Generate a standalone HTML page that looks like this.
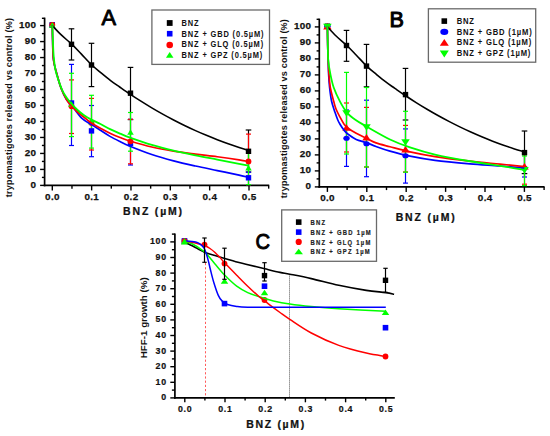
<!DOCTYPE html><html><head><meta charset="utf-8"><style>html,body{margin:0;padding:0;background:#fff;overflow:hidden;}svg{display:block;}</style></head><body>
<svg width="550" height="436" viewBox="0 0 550 436" style='font-family:"Liberation Sans", sans-serif'>
<rect width="550" height="436" fill="#fff"/>
<line x1="44.6" y1="17.6" x2="44.6" y2="186.3" stroke="#000" stroke-width="1.7" />
<line x1="43.75" y1="185.45" x2="269.2" y2="185.45" stroke="#000" stroke-width="1.7" />
<line x1="40.1" y1="185.4" x2="44.6" y2="185.4" stroke="#000" stroke-width="1.4" />
<line x1="41.9" y1="177.41" x2="44.6" y2="177.41" stroke="#000" stroke-width="1.4" />
<line x1="40.1" y1="169.42" x2="44.6" y2="169.42" stroke="#000" stroke-width="1.4" />
<line x1="41.9" y1="161.43" x2="44.6" y2="161.43" stroke="#000" stroke-width="1.4" />
<line x1="40.1" y1="153.44" x2="44.6" y2="153.44" stroke="#000" stroke-width="1.4" />
<line x1="41.9" y1="145.45" x2="44.6" y2="145.45" stroke="#000" stroke-width="1.4" />
<line x1="40.1" y1="137.46" x2="44.6" y2="137.46" stroke="#000" stroke-width="1.4" />
<line x1="41.9" y1="129.47" x2="44.6" y2="129.47" stroke="#000" stroke-width="1.4" />
<line x1="40.1" y1="121.48" x2="44.6" y2="121.48" stroke="#000" stroke-width="1.4" />
<line x1="41.9" y1="113.49" x2="44.6" y2="113.49" stroke="#000" stroke-width="1.4" />
<line x1="40.1" y1="105.5" x2="44.6" y2="105.5" stroke="#000" stroke-width="1.4" />
<line x1="41.9" y1="97.51" x2="44.6" y2="97.51" stroke="#000" stroke-width="1.4" />
<line x1="40.1" y1="89.52" x2="44.6" y2="89.52" stroke="#000" stroke-width="1.4" />
<line x1="41.9" y1="81.53" x2="44.6" y2="81.53" stroke="#000" stroke-width="1.4" />
<line x1="40.1" y1="73.54" x2="44.6" y2="73.54" stroke="#000" stroke-width="1.4" />
<line x1="41.9" y1="65.55" x2="44.6" y2="65.55" stroke="#000" stroke-width="1.4" />
<line x1="40.1" y1="57.56" x2="44.6" y2="57.56" stroke="#000" stroke-width="1.4" />
<line x1="41.9" y1="49.57" x2="44.6" y2="49.57" stroke="#000" stroke-width="1.4" />
<line x1="40.1" y1="41.58" x2="44.6" y2="41.58" stroke="#000" stroke-width="1.4" />
<line x1="41.9" y1="33.59" x2="44.6" y2="33.59" stroke="#000" stroke-width="1.4" />
<line x1="40.1" y1="25.6" x2="44.6" y2="25.6" stroke="#000" stroke-width="1.4" />
<line x1="41.9" y1="18.3" x2="44.6" y2="18.3" stroke="#000" stroke-width="1.4" />
<line x1="52.3" y1="185.45" x2="52.3" y2="190.45" stroke="#000" stroke-width="1.4" />
<line x1="71.97" y1="185.45" x2="71.97" y2="188.65" stroke="#000" stroke-width="1.4" />
<line x1="91.64" y1="185.45" x2="91.64" y2="190.45" stroke="#000" stroke-width="1.4" />
<line x1="111.31" y1="185.45" x2="111.31" y2="188.65" stroke="#000" stroke-width="1.4" />
<line x1="130.98" y1="185.45" x2="130.98" y2="190.45" stroke="#000" stroke-width="1.4" />
<line x1="150.65" y1="185.45" x2="150.65" y2="188.65" stroke="#000" stroke-width="1.4" />
<line x1="170.32" y1="185.45" x2="170.32" y2="190.45" stroke="#000" stroke-width="1.4" />
<line x1="189.99" y1="185.45" x2="189.99" y2="188.65" stroke="#000" stroke-width="1.4" />
<line x1="209.66" y1="185.45" x2="209.66" y2="190.45" stroke="#000" stroke-width="1.4" />
<line x1="229.33" y1="185.45" x2="229.33" y2="188.65" stroke="#000" stroke-width="1.4" />
<line x1="249" y1="185.45" x2="249" y2="190.45" stroke="#000" stroke-width="1.4" />
<line x1="268.67" y1="185.45" x2="268.67" y2="188.65" stroke="#000" stroke-width="1.4" />
<text transform="translate(36.45,187.7)" font-size="9.9" font-weight="bold" text-anchor="end" fill="#111" letter-spacing="0.35" stroke="#111" stroke-width="0.25" stroke-linejoin="round" >0</text>
<text transform="translate(36.45,171.72)" font-size="9.9" font-weight="bold" text-anchor="end" fill="#111" letter-spacing="0.35" stroke="#111" stroke-width="0.25" stroke-linejoin="round" >10</text>
<text transform="translate(36.45,155.74)" font-size="9.9" font-weight="bold" text-anchor="end" fill="#111" letter-spacing="0.35" stroke="#111" stroke-width="0.25" stroke-linejoin="round" >20</text>
<text transform="translate(36.45,139.76)" font-size="9.9" font-weight="bold" text-anchor="end" fill="#111" letter-spacing="0.35" stroke="#111" stroke-width="0.25" stroke-linejoin="round" >30</text>
<text transform="translate(36.45,123.78)" font-size="9.9" font-weight="bold" text-anchor="end" fill="#111" letter-spacing="0.35" stroke="#111" stroke-width="0.25" stroke-linejoin="round" >40</text>
<text transform="translate(36.45,107.8)" font-size="9.9" font-weight="bold" text-anchor="end" fill="#111" letter-spacing="0.35" stroke="#111" stroke-width="0.25" stroke-linejoin="round" >50</text>
<text transform="translate(36.45,91.82)" font-size="9.9" font-weight="bold" text-anchor="end" fill="#111" letter-spacing="0.35" stroke="#111" stroke-width="0.25" stroke-linejoin="round" >60</text>
<text transform="translate(36.45,75.84)" font-size="9.9" font-weight="bold" text-anchor="end" fill="#111" letter-spacing="0.35" stroke="#111" stroke-width="0.25" stroke-linejoin="round" >70</text>
<text transform="translate(36.45,59.86)" font-size="9.9" font-weight="bold" text-anchor="end" fill="#111" letter-spacing="0.35" stroke="#111" stroke-width="0.25" stroke-linejoin="round" >80</text>
<text transform="translate(36.45,43.88)" font-size="9.9" font-weight="bold" text-anchor="end" fill="#111" letter-spacing="0.35" stroke="#111" stroke-width="0.25" stroke-linejoin="round" >90</text>
<text transform="translate(36.45,27.9)" font-size="9.9" font-weight="bold" text-anchor="end" fill="#111" letter-spacing="0.35" stroke="#111" stroke-width="0.25" stroke-linejoin="round" >100</text>
<text transform="translate(52.47,199.9)" font-size="9.9" font-weight="bold" text-anchor="middle" fill="#111" letter-spacing="0.35" stroke="#111" stroke-width="0.25" stroke-linejoin="round" >0.0</text>
<text transform="translate(91.81,199.9)" font-size="9.9" font-weight="bold" text-anchor="middle" fill="#111" letter-spacing="0.35" stroke="#111" stroke-width="0.25" stroke-linejoin="round" >0.1</text>
<text transform="translate(131.16,199.9)" font-size="9.9" font-weight="bold" text-anchor="middle" fill="#111" letter-spacing="0.35" stroke="#111" stroke-width="0.25" stroke-linejoin="round" >0.2</text>
<text transform="translate(170.5,199.9)" font-size="9.9" font-weight="bold" text-anchor="middle" fill="#111" letter-spacing="0.35" stroke="#111" stroke-width="0.25" stroke-linejoin="round" >0.3</text>
<text transform="translate(209.84,199.9)" font-size="9.9" font-weight="bold" text-anchor="middle" fill="#111" letter-spacing="0.35" stroke="#111" stroke-width="0.25" stroke-linejoin="round" >0.4</text>
<text transform="translate(249.18,199.9)" font-size="9.9" font-weight="bold" text-anchor="middle" fill="#111" letter-spacing="0.35" stroke="#111" stroke-width="0.25" stroke-linejoin="round" >0.5</text>
<text transform="translate(11.7,107.5) rotate(-90)" font-size="9.0" font-weight="bold" text-anchor="middle" letter-spacing="0.21" fill="#111">trypomastigotes released vs control (%)</text>
<text transform="translate(153.52,215.3) scale(0.97,1)" font-size="10.8" font-weight="bold" text-anchor="middle" fill="#111" letter-spacing="1.9" stroke="#111" stroke-width="0.25" stroke-linejoin="round" >BNZ (µM)</text>
<text transform="translate(101.4,25)" font-size="21.8" font-weight="normal" text-anchor="start" fill="#000" stroke="#000" stroke-width="0.9" stroke-linejoin="round" >A</text>
<rect x="151.9" y="10.0" width="117.6" height="54.4" fill="none" stroke="#6a6a6a" stroke-width="1.3"/>
<rect x="166.8" y="20.1" width="5.8" height="5.8" fill="#000"/>
<rect x="166.9" y="30.9" width="5.6" height="5.6" fill="#0000ff"/>
<circle cx="169.7" cy="45" r="3.3" fill="#ff0000"/>
<polygon points="165.95,57.65 173.45,57.65 169.7,51.95" fill="#00ff00"/>
<text transform="translate(181.6,26) scale(0.9,1)" font-size="8.3" font-weight="bold" text-anchor="start" fill="#111" letter-spacing="0.95" >BNZ</text>
<text transform="translate(181.6,36.6) scale(0.9,1)" font-size="8.3" font-weight="bold" text-anchor="start" fill="#111" letter-spacing="0.95" >BNZ + GBD (0.5µM)</text>
<text transform="translate(181.6,47.2) scale(0.9,1)" font-size="8.3" font-weight="bold" text-anchor="start" fill="#111" letter-spacing="0.95" >BNZ + GLQ (0.5µM)</text>
<text transform="translate(181.6,57.8) scale(0.9,1)" font-size="8.3" font-weight="bold" text-anchor="start" fill="#111" letter-spacing="0.95" >BNZ + GPZ (0.5µM)</text>
<line x1="71.5" y1="28.8" x2="71.5" y2="60" stroke="#000" stroke-width="1.2" />
<line x1="68.7" y1="28.8" x2="74.3" y2="28.8" stroke="#000" stroke-width="1.2" />
<line x1="68.7" y1="60" x2="74.3" y2="60" stroke="#000" stroke-width="1.2" />
<line x1="91.5" y1="43.3" x2="91.5" y2="86.6" stroke="#000" stroke-width="1.2" />
<line x1="88.7" y1="43.3" x2="94.3" y2="43.3" stroke="#000" stroke-width="1.2" />
<line x1="88.7" y1="86.6" x2="94.3" y2="86.6" stroke="#000" stroke-width="1.2" />
<line x1="130.5" y1="67.4" x2="130.5" y2="119.6" stroke="#000" stroke-width="1.2" />
<line x1="127.7" y1="67.4" x2="133.3" y2="67.4" stroke="#000" stroke-width="1.2" />
<line x1="127.7" y1="119.6" x2="133.3" y2="119.6" stroke="#000" stroke-width="1.2" />
<line x1="248.5" y1="130" x2="248.5" y2="172" stroke="#000" stroke-width="1.2" />
<line x1="245.7" y1="130" x2="251.3" y2="130" stroke="#000" stroke-width="1.2" />
<line x1="245.7" y1="172" x2="251.3" y2="172" stroke="#000" stroke-width="1.2" />
<line x1="71.5" y1="64.4" x2="71.5" y2="145.5" stroke="#0000ff" stroke-width="1.2" />
<line x1="69" y1="64.4" x2="74" y2="64.4" stroke="#0000ff" stroke-width="1.2" />
<line x1="69" y1="145.5" x2="74" y2="145.5" stroke="#0000ff" stroke-width="1.2" />
<line x1="91.5" y1="105.5" x2="91.5" y2="156.7" stroke="#0000ff" stroke-width="1.2" />
<line x1="89" y1="105.5" x2="94" y2="105.5" stroke="#0000ff" stroke-width="1.2" />
<line x1="89" y1="156.7" x2="94" y2="156.7" stroke="#0000ff" stroke-width="1.2" />
<line x1="130.5" y1="119.3" x2="130.5" y2="165" stroke="#0000ff" stroke-width="1.2" />
<line x1="128" y1="119.3" x2="133" y2="119.3" stroke="#0000ff" stroke-width="1.2" />
<line x1="128" y1="165" x2="133" y2="165" stroke="#0000ff" stroke-width="1.2" />
<line x1="248.5" y1="172.2" x2="248.5" y2="184.6" stroke="#0000ff" stroke-width="1.2" />
<line x1="246" y1="172.2" x2="251" y2="172.2" stroke="#0000ff" stroke-width="1.2" />
<line x1="246" y1="184.6" x2="251" y2="184.6" stroke="#0000ff" stroke-width="1.2" />
<line x1="71.5" y1="79.9" x2="71.5" y2="133.5" stroke="#ff0000" stroke-width="1.2" />
<line x1="69" y1="79.9" x2="74" y2="79.9" stroke="#ff0000" stroke-width="1.2" />
<line x1="69" y1="133.5" x2="74" y2="133.5" stroke="#ff0000" stroke-width="1.2" />
<line x1="91.5" y1="98.4" x2="91.5" y2="150" stroke="#ff0000" stroke-width="1.2" />
<line x1="89" y1="98.4" x2="94" y2="98.4" stroke="#ff0000" stroke-width="1.2" />
<line x1="89" y1="150" x2="94" y2="150" stroke="#ff0000" stroke-width="1.2" />
<line x1="130.5" y1="119.3" x2="130.5" y2="163.8" stroke="#ff0000" stroke-width="1.2" />
<line x1="128" y1="119.3" x2="133" y2="119.3" stroke="#ff0000" stroke-width="1.2" />
<line x1="128" y1="163.8" x2="133" y2="163.8" stroke="#ff0000" stroke-width="1.2" />
<line x1="248.5" y1="134.1" x2="248.5" y2="184.6" stroke="#ff0000" stroke-width="1.2" />
<line x1="246" y1="134.1" x2="251" y2="134.1" stroke="#ff0000" stroke-width="1.2" />
<line x1="246" y1="184.6" x2="251" y2="184.6" stroke="#ff0000" stroke-width="1.2" />
<line x1="71.5" y1="73.3" x2="71.5" y2="136.6" stroke="#00ff00" stroke-width="1.2" />
<line x1="69" y1="73.3" x2="74" y2="73.3" stroke="#00ff00" stroke-width="1.2" />
<line x1="69" y1="136.6" x2="74" y2="136.6" stroke="#00ff00" stroke-width="1.2" />
<line x1="91.5" y1="95.3" x2="91.5" y2="148.1" stroke="#00ff00" stroke-width="1.2" />
<line x1="89" y1="95.3" x2="94" y2="95.3" stroke="#00ff00" stroke-width="1.2" />
<line x1="89" y1="148.1" x2="94" y2="148.1" stroke="#00ff00" stroke-width="1.2" />
<line x1="130.5" y1="112.5" x2="130.5" y2="151.2" stroke="#00ff00" stroke-width="1.2" />
<line x1="128" y1="112.5" x2="133" y2="112.5" stroke="#00ff00" stroke-width="1.2" />
<line x1="128" y1="151.2" x2="133" y2="151.2" stroke="#00ff00" stroke-width="1.2" />
<line x1="248.5" y1="150" x2="248.5" y2="184.6" stroke="#00ff00" stroke-width="1.2" />
<line x1="246" y1="150" x2="251" y2="150" stroke="#00ff00" stroke-width="1.2" />
<line x1="246" y1="184.6" x2="251" y2="184.6" stroke="#00ff00" stroke-width="1.2" />
<rect x="49.6" y="22.3" width="5.4" height="5.4" fill="#000"/>
<rect x="68.8" y="41.6" width="5.4" height="5.4" fill="#000"/>
<rect x="88.8" y="62.3" width="5.4" height="5.4" fill="#000"/>
<rect x="127.8" y="90.5" width="5.4" height="5.4" fill="#000"/>
<rect x="245.8" y="148.6" width="5.4" height="5.4" fill="#000"/>
<rect x="49.6" y="22.3" width="5.4" height="5.4" fill="#0000ff"/>
<rect x="68.8" y="100.3" width="5.4" height="5.4" fill="#0000ff"/>
<rect x="88.8" y="128.2" width="5.4" height="5.4" fill="#0000ff"/>
<rect x="127.8" y="140.8" width="5.4" height="5.4" fill="#0000ff"/>
<rect x="245.8" y="175.1" width="5.4" height="5.4" fill="#0000ff"/>
<circle cx="52.3" cy="25" r="2.9" fill="#ff0000"/>
<circle cx="71.5" cy="106.3" r="2.9" fill="#ff0000"/>
<circle cx="91.5" cy="123" r="2.9" fill="#ff0000"/>
<circle cx="130.5" cy="141.3" r="2.9" fill="#ff0000"/>
<circle cx="248.5" cy="161.4" r="2.9" fill="#ff0000"/>
<polygon points="49.05,27.86 55.55,27.86 52.3,22.14" fill="#00ff00"/>
<polygon points="68.25,106.86 74.75,106.86 71.5,101.14" fill="#00ff00"/>
<polygon points="88.25,124.56 94.75,124.56 91.5,118.84" fill="#00ff00"/>
<polygon points="127.25,134.86 133.75,134.86 130.5,129.14" fill="#00ff00"/>
<polygon points="245.25,170.46 251.75,170.46 248.5,164.74" fill="#00ff00"/>
<path d="M52.2,25.5 C53.67,27.03 57.75,31.58 61,34.7 C64.25,37.82 68.33,41 71.7,44.2 C75.07,47.4 77.85,50.43 81.2,53.9 C84.55,57.37 88.43,61.78 91.8,65 C95.17,68.22 98.27,70.6 101.4,73.2 C104.53,75.8 107.55,78.3 110.6,80.6 C113.65,82.9 116.47,84.75 119.7,87 C122.93,89.25 126.47,91.74 130,94.1 C133.53,96.46 137.27,98.89 140.9,101.18 C144.53,103.48 148.17,105.7 151.8,107.85 C155.43,110.01 159.07,112.1 162.7,114.12 C166.33,116.14 169.97,118.1 173.6,119.99 C177.23,121.88 180.85,123.7 184.5,125.47 C188.15,127.24 191.85,128.97 195.5,130.62 C199.15,132.27 202.77,133.84 206.4,135.36 C210.03,136.87 213.67,138.33 217.3,139.73 C220.93,141.13 224.57,142.47 228.2,143.75 C231.83,145.04 235.67,146.32 239.1,147.43 C242.53,148.55 247.18,149.93 248.8,150.43" fill="none" stroke="#000" stroke-width="1.6" stroke-linejoin="round"/>
<path d="M52.3,25.6 C52.35,28 52.4,34.27 52.6,40 C52.8,45.73 52.78,54.32 53.5,60 C54.22,65.68 55.65,69.45 56.9,74.1 C58.15,78.75 59.4,83.65 61,87.9 C62.6,92.15 64.78,96.78 66.5,99.6 C68.22,102.42 68.77,101.7 71.3,104.8 C73.83,107.9 78.37,114.93 81.7,118.2 C85.03,121.47 88.25,122.43 91.3,124.4 C94.35,126.37 96.88,128.01 100,130 C103.12,131.99 106.67,134.44 110,136.37 C113.33,138.3 116.67,139.94 120,141.58 C123.33,143.22 124.7,144.04 130,146.19 C135.3,148.34 144.53,152.03 151.8,154.48 C159.07,156.93 166.32,158.95 173.6,160.87 C180.88,162.79 188.22,164.41 195.5,166.03 C202.78,167.64 210.03,169.04 217.3,170.55 C224.57,172.06 233.85,173.98 239.1,175.11 C244.35,176.23 247.18,176.94 248.8,177.31" fill="none" stroke="#0000ff" stroke-width="1.7" stroke-linejoin="round"/>
<path d="M52.3,25.6 C52.35,28 52.4,34.27 52.6,40 C52.8,45.73 52.78,54.32 53.5,60 C54.22,65.68 55.65,69.45 56.9,74.1 C58.15,78.75 59.4,83.65 61,87.9 C62.6,92.15 64.78,96.62 66.5,99.6 C68.22,102.58 69.47,103.73 71.3,105.8 C73.13,107.87 75.32,110.05 77.5,112 C79.68,113.95 82.1,115.67 84.4,117.5 C86.7,119.33 88.7,121.27 91.3,123 C93.9,124.73 96.88,126.2 100,127.9 C103.12,129.6 106.67,131.61 110,133.2 C113.33,134.79 116.67,136.13 120,137.44 C123.33,138.74 124.7,139.44 130,141.04 C135.3,142.64 144.53,145.36 151.8,147.04 C159.07,148.73 166.32,149.97 173.6,151.15 C180.88,152.34 188.22,153.21 195.5,154.15 C202.78,155.09 210.03,155.83 217.3,156.78 C224.57,157.72 233.85,159.03 239.1,159.82 C244.35,160.61 247.18,161.23 248.8,161.51" fill="none" stroke="#ff0000" stroke-width="1.7" stroke-linejoin="round"/>
<path d="M52.3,25.6 C52.38,27.72 52.57,33.12 52.8,38.3 C53.03,43.48 53.25,51.42 53.7,56.7 C54.15,61.98 54.73,66.18 55.5,70 C56.27,73.82 57.15,76.15 58.3,79.6 C59.45,83.05 61.03,87.72 62.4,90.7 C63.77,93.68 65.02,95.33 66.5,97.5 C67.98,99.67 69.47,101.62 71.3,103.7 C73.13,105.78 75.32,108.03 77.5,110 C79.68,111.97 82.1,113.9 84.4,115.5 C86.7,117.1 88.7,118.23 91.3,119.6 C93.9,120.97 96.88,122.11 100,123.7 C103.12,125.29 106.67,127.48 110,129.13 C113.33,130.78 116.67,132.19 120,133.61 C123.33,135.02 124.7,135.72 130,137.61 C135.3,139.49 144.53,142.72 151.8,144.9 C159.07,147.07 166.32,148.9 173.6,150.65 C180.88,152.4 188.22,153.9 195.5,155.39 C202.78,156.88 210.03,158.19 217.3,159.59 C224.57,160.98 233.85,162.73 239.1,163.76 C244.35,164.79 247.18,165.41 248.8,165.74" fill="none" stroke="#00ff00" stroke-width="1.8" stroke-linejoin="round"/>
<line x1="319.3" y1="18.6" x2="319.3" y2="187.75" stroke="#000" stroke-width="1.7" />
<line x1="318.45" y1="186.9" x2="544.6" y2="186.9" stroke="#000" stroke-width="1.7" />
<line x1="314.8" y1="186.9" x2="319.3" y2="186.9" stroke="#000" stroke-width="1.4" />
<line x1="316.6" y1="178.9" x2="319.3" y2="178.9" stroke="#000" stroke-width="1.4" />
<line x1="314.8" y1="170.9" x2="319.3" y2="170.9" stroke="#000" stroke-width="1.4" />
<line x1="316.6" y1="162.9" x2="319.3" y2="162.9" stroke="#000" stroke-width="1.4" />
<line x1="314.8" y1="154.9" x2="319.3" y2="154.9" stroke="#000" stroke-width="1.4" />
<line x1="316.6" y1="146.9" x2="319.3" y2="146.9" stroke="#000" stroke-width="1.4" />
<line x1="314.8" y1="138.9" x2="319.3" y2="138.9" stroke="#000" stroke-width="1.4" />
<line x1="316.6" y1="130.9" x2="319.3" y2="130.9" stroke="#000" stroke-width="1.4" />
<line x1="314.8" y1="122.9" x2="319.3" y2="122.9" stroke="#000" stroke-width="1.4" />
<line x1="316.6" y1="114.9" x2="319.3" y2="114.9" stroke="#000" stroke-width="1.4" />
<line x1="314.8" y1="106.9" x2="319.3" y2="106.9" stroke="#000" stroke-width="1.4" />
<line x1="316.6" y1="98.9" x2="319.3" y2="98.9" stroke="#000" stroke-width="1.4" />
<line x1="314.8" y1="90.9" x2="319.3" y2="90.9" stroke="#000" stroke-width="1.4" />
<line x1="316.6" y1="82.9" x2="319.3" y2="82.9" stroke="#000" stroke-width="1.4" />
<line x1="314.8" y1="74.9" x2="319.3" y2="74.9" stroke="#000" stroke-width="1.4" />
<line x1="316.6" y1="66.9" x2="319.3" y2="66.9" stroke="#000" stroke-width="1.4" />
<line x1="314.8" y1="58.9" x2="319.3" y2="58.9" stroke="#000" stroke-width="1.4" />
<line x1="316.6" y1="50.9" x2="319.3" y2="50.9" stroke="#000" stroke-width="1.4" />
<line x1="314.8" y1="42.9" x2="319.3" y2="42.9" stroke="#000" stroke-width="1.4" />
<line x1="316.6" y1="34.9" x2="319.3" y2="34.9" stroke="#000" stroke-width="1.4" />
<line x1="314.8" y1="26.9" x2="319.3" y2="26.9" stroke="#000" stroke-width="1.4" />
<line x1="316.6" y1="19.3" x2="319.3" y2="19.3" stroke="#000" stroke-width="1.4" />
<line x1="327.4" y1="186.9" x2="327.4" y2="191.9" stroke="#000" stroke-width="1.4" />
<line x1="347.1" y1="186.9" x2="347.1" y2="190.1" stroke="#000" stroke-width="1.4" />
<line x1="366.8" y1="186.9" x2="366.8" y2="191.9" stroke="#000" stroke-width="1.4" />
<line x1="386.5" y1="186.9" x2="386.5" y2="190.1" stroke="#000" stroke-width="1.4" />
<line x1="406.2" y1="186.9" x2="406.2" y2="191.9" stroke="#000" stroke-width="1.4" />
<line x1="425.9" y1="186.9" x2="425.9" y2="190.1" stroke="#000" stroke-width="1.4" />
<line x1="445.6" y1="186.9" x2="445.6" y2="191.9" stroke="#000" stroke-width="1.4" />
<line x1="465.3" y1="186.9" x2="465.3" y2="190.1" stroke="#000" stroke-width="1.4" />
<line x1="485" y1="186.9" x2="485" y2="191.9" stroke="#000" stroke-width="1.4" />
<line x1="504.7" y1="186.9" x2="504.7" y2="190.1" stroke="#000" stroke-width="1.4" />
<line x1="524.4" y1="186.9" x2="524.4" y2="191.9" stroke="#000" stroke-width="1.4" />
<line x1="544.1" y1="186.9" x2="544.1" y2="190.1" stroke="#000" stroke-width="1.4" />
<text transform="translate(311.45,189.2)" font-size="9.9" font-weight="bold" text-anchor="end" fill="#111" letter-spacing="0.35" stroke="#111" stroke-width="0.25" stroke-linejoin="round" >0</text>
<text transform="translate(311.45,173.2)" font-size="9.9" font-weight="bold" text-anchor="end" fill="#111" letter-spacing="0.35" stroke="#111" stroke-width="0.25" stroke-linejoin="round" >10</text>
<text transform="translate(311.45,157.2)" font-size="9.9" font-weight="bold" text-anchor="end" fill="#111" letter-spacing="0.35" stroke="#111" stroke-width="0.25" stroke-linejoin="round" >20</text>
<text transform="translate(311.45,141.2)" font-size="9.9" font-weight="bold" text-anchor="end" fill="#111" letter-spacing="0.35" stroke="#111" stroke-width="0.25" stroke-linejoin="round" >30</text>
<text transform="translate(311.45,125.2)" font-size="9.9" font-weight="bold" text-anchor="end" fill="#111" letter-spacing="0.35" stroke="#111" stroke-width="0.25" stroke-linejoin="round" >40</text>
<text transform="translate(311.45,109.2)" font-size="9.9" font-weight="bold" text-anchor="end" fill="#111" letter-spacing="0.35" stroke="#111" stroke-width="0.25" stroke-linejoin="round" >50</text>
<text transform="translate(311.45,93.2)" font-size="9.9" font-weight="bold" text-anchor="end" fill="#111" letter-spacing="0.35" stroke="#111" stroke-width="0.25" stroke-linejoin="round" >60</text>
<text transform="translate(311.45,77.2)" font-size="9.9" font-weight="bold" text-anchor="end" fill="#111" letter-spacing="0.35" stroke="#111" stroke-width="0.25" stroke-linejoin="round" >70</text>
<text transform="translate(311.45,61.2)" font-size="9.9" font-weight="bold" text-anchor="end" fill="#111" letter-spacing="0.35" stroke="#111" stroke-width="0.25" stroke-linejoin="round" >80</text>
<text transform="translate(311.45,45.2)" font-size="9.9" font-weight="bold" text-anchor="end" fill="#111" letter-spacing="0.35" stroke="#111" stroke-width="0.25" stroke-linejoin="round" >90</text>
<text transform="translate(311.45,29.2)" font-size="9.9" font-weight="bold" text-anchor="end" fill="#111" letter-spacing="0.35" stroke="#111" stroke-width="0.25" stroke-linejoin="round" >100</text>
<text transform="translate(327.57,201)" font-size="9.9" font-weight="bold" text-anchor="middle" fill="#111" letter-spacing="0.35" stroke="#111" stroke-width="0.25" stroke-linejoin="round" >0.0</text>
<text transform="translate(366.97,201)" font-size="9.9" font-weight="bold" text-anchor="middle" fill="#111" letter-spacing="0.35" stroke="#111" stroke-width="0.25" stroke-linejoin="round" >0.1</text>
<text transform="translate(406.38,201)" font-size="9.9" font-weight="bold" text-anchor="middle" fill="#111" letter-spacing="0.35" stroke="#111" stroke-width="0.25" stroke-linejoin="round" >0.2</text>
<text transform="translate(445.78,201)" font-size="9.9" font-weight="bold" text-anchor="middle" fill="#111" letter-spacing="0.35" stroke="#111" stroke-width="0.25" stroke-linejoin="round" >0.3</text>
<text transform="translate(485.18,201)" font-size="9.9" font-weight="bold" text-anchor="middle" fill="#111" letter-spacing="0.35" stroke="#111" stroke-width="0.25" stroke-linejoin="round" >0.4</text>
<text transform="translate(524.57,201)" font-size="9.9" font-weight="bold" text-anchor="middle" fill="#111" letter-spacing="0.35" stroke="#111" stroke-width="0.25" stroke-linejoin="round" >0.5</text>
<text transform="translate(286.7,108.6) rotate(-90)" font-size="9.0" font-weight="bold" text-anchor="middle" letter-spacing="0.21" fill="#111">trypomastigotes released vs control (%)</text>
<text transform="translate(426.12,220.6) scale(0.97,1)" font-size="10.8" font-weight="bold" text-anchor="middle" fill="#111" letter-spacing="1.9" stroke="#111" stroke-width="0.25" stroke-linejoin="round" >BNZ (µM)</text>
<text transform="translate(389.5,26.5)" font-size="21.6" font-weight="normal" text-anchor="start" fill="#000" stroke="#000" stroke-width="1.0" stroke-linejoin="round" >B</text>
<rect x="428.4" y="8.8" width="107.3" height="53.4" fill="none" stroke="#6a6a6a" stroke-width="1.3"/>
<rect x="441.5" y="18.3" width="5.6" height="5.6" fill="#000"/>
<ellipse cx="444.3" cy="31.85" rx="4" ry="3.2" fill="#0000ff"/>
<polygon points="439.8,45.72 448.8,45.72 444.3,38.88" fill="#ff0000"/>
<polygon points="439.8,50.58 448.8,50.58 444.3,57.42" fill="#00ff00"/>
<text transform="translate(456.7,23.8) scale(0.9,1)" font-size="8.5" font-weight="bold" text-anchor="start" fill="#111" letter-spacing="0.9" >BNZ</text>
<text transform="translate(456.7,34.5) scale(0.9,1)" font-size="8.5" font-weight="bold" text-anchor="start" fill="#111" letter-spacing="0.9" >BNZ + GBD (1µM)</text>
<text transform="translate(456.7,45.3) scale(0.9,1)" font-size="8.5" font-weight="bold" text-anchor="start" fill="#111" letter-spacing="0.9" >BNZ + GLQ (1µM)</text>
<text transform="translate(456.7,55.9) scale(0.9,1)" font-size="8.5" font-weight="bold" text-anchor="start" fill="#111" letter-spacing="0.9" >BNZ + GPZ (1µM)</text>
<line x1="346.5" y1="30.4" x2="346.5" y2="61.3" stroke="#000" stroke-width="1.2" />
<line x1="343.7" y1="30.4" x2="349.3" y2="30.4" stroke="#000" stroke-width="1.2" />
<line x1="343.7" y1="61.3" x2="349.3" y2="61.3" stroke="#000" stroke-width="1.2" />
<line x1="366.5" y1="44.4" x2="366.5" y2="86.8" stroke="#000" stroke-width="1.2" />
<line x1="363.7" y1="44.4" x2="369.3" y2="44.4" stroke="#000" stroke-width="1.2" />
<line x1="363.7" y1="86.8" x2="369.3" y2="86.8" stroke="#000" stroke-width="1.2" />
<line x1="405.5" y1="68.4" x2="405.5" y2="120" stroke="#000" stroke-width="1.2" />
<line x1="402.7" y1="68.4" x2="408.3" y2="68.4" stroke="#000" stroke-width="1.2" />
<line x1="402.7" y1="120" x2="408.3" y2="120" stroke="#000" stroke-width="1.2" />
<line x1="524.5" y1="131" x2="524.5" y2="173.6" stroke="#000" stroke-width="1.2" />
<line x1="521.7" y1="131" x2="527.3" y2="131" stroke="#000" stroke-width="1.2" />
<line x1="521.7" y1="173.6" x2="527.3" y2="173.6" stroke="#000" stroke-width="1.2" />
<line x1="346.5" y1="110" x2="346.5" y2="166.4" stroke="#0000ff" stroke-width="1.2" />
<line x1="344" y1="110" x2="349" y2="110" stroke="#0000ff" stroke-width="1.2" />
<line x1="344" y1="166.4" x2="349" y2="166.4" stroke="#0000ff" stroke-width="1.2" />
<line x1="366.5" y1="100.2" x2="366.5" y2="176.7" stroke="#0000ff" stroke-width="1.2" />
<line x1="364" y1="100.2" x2="369" y2="100.2" stroke="#0000ff" stroke-width="1.2" />
<line x1="364" y1="176.7" x2="369" y2="176.7" stroke="#0000ff" stroke-width="1.2" />
<line x1="405.5" y1="128.9" x2="405.5" y2="183.1" stroke="#0000ff" stroke-width="1.2" />
<line x1="403" y1="128.9" x2="408" y2="128.9" stroke="#0000ff" stroke-width="1.2" />
<line x1="403" y1="183.1" x2="408" y2="183.1" stroke="#0000ff" stroke-width="1.2" />
<line x1="524.5" y1="152.6" x2="524.5" y2="177" stroke="#0000ff" stroke-width="1.2" />
<line x1="522" y1="152.6" x2="527" y2="152.6" stroke="#0000ff" stroke-width="1.2" />
<line x1="522" y1="177" x2="527" y2="177" stroke="#0000ff" stroke-width="1.2" />
<line x1="346.5" y1="103" x2="346.5" y2="152" stroke="#ff0000" stroke-width="1.2" />
<line x1="344" y1="103" x2="349" y2="103" stroke="#ff0000" stroke-width="1.2" />
<line x1="344" y1="152" x2="349" y2="152" stroke="#ff0000" stroke-width="1.2" />
<line x1="366.5" y1="107.4" x2="366.5" y2="167" stroke="#ff0000" stroke-width="1.2" />
<line x1="364" y1="107.4" x2="369" y2="107.4" stroke="#ff0000" stroke-width="1.2" />
<line x1="364" y1="167" x2="369" y2="167" stroke="#ff0000" stroke-width="1.2" />
<line x1="405.5" y1="125.4" x2="405.5" y2="172" stroke="#ff0000" stroke-width="1.2" />
<line x1="403" y1="125.4" x2="408" y2="125.4" stroke="#ff0000" stroke-width="1.2" />
<line x1="403" y1="172" x2="408" y2="172" stroke="#ff0000" stroke-width="1.2" />
<line x1="524.5" y1="152.4" x2="524.5" y2="184.2" stroke="#ff0000" stroke-width="1.2" />
<line x1="522" y1="152.4" x2="527" y2="152.4" stroke="#ff0000" stroke-width="1.2" />
<line x1="522" y1="184.2" x2="527" y2="184.2" stroke="#ff0000" stroke-width="1.2" />
<line x1="346.5" y1="72.4" x2="346.5" y2="154" stroke="#00ff00" stroke-width="1.2" />
<line x1="344" y1="72.4" x2="349" y2="72.4" stroke="#00ff00" stroke-width="1.2" />
<line x1="344" y1="154" x2="349" y2="154" stroke="#00ff00" stroke-width="1.2" />
<line x1="366.5" y1="87.5" x2="366.5" y2="167" stroke="#00ff00" stroke-width="1.2" />
<line x1="364" y1="87.5" x2="369" y2="87.5" stroke="#00ff00" stroke-width="1.2" />
<line x1="364" y1="167" x2="369" y2="167" stroke="#00ff00" stroke-width="1.2" />
<line x1="405.5" y1="111.3" x2="405.5" y2="172.2" stroke="#00ff00" stroke-width="1.2" />
<line x1="403" y1="111.3" x2="408" y2="111.3" stroke="#00ff00" stroke-width="1.2" />
<line x1="403" y1="172.2" x2="408" y2="172.2" stroke="#00ff00" stroke-width="1.2" />
<line x1="524.5" y1="156" x2="524.5" y2="185.6" stroke="#00ff00" stroke-width="1.2" />
<line x1="522" y1="156" x2="527" y2="156" stroke="#00ff00" stroke-width="1.2" />
<line x1="522" y1="185.6" x2="527" y2="185.6" stroke="#00ff00" stroke-width="1.2" />
<rect x="324.7" y="23.5" width="5.4" height="5.4" fill="#000"/>
<rect x="343.8" y="42.8" width="5.4" height="5.4" fill="#000"/>
<rect x="363.8" y="63.4" width="5.4" height="5.4" fill="#000"/>
<rect x="402.8" y="91.9" width="5.4" height="5.4" fill="#000"/>
<rect x="521.8" y="149.9" width="5.4" height="5.4" fill="#000"/>
<ellipse cx="327.4" cy="26.2" rx="3.2" ry="2.56" fill="#0000ff"/>
<ellipse cx="346.5" cy="138.2" rx="3.2" ry="2.56" fill="#0000ff"/>
<ellipse cx="366.5" cy="143.8" rx="3.2" ry="2.56" fill="#0000ff"/>
<ellipse cx="405.5" cy="155.7" rx="3.2" ry="2.56" fill="#0000ff"/>
<ellipse cx="524.5" cy="168" rx="3.2" ry="2.56" fill="#0000ff"/>
<polygon points="323.15,29.43 331.65,29.43 327.4,22.97" fill="#ff0000"/>
<polygon points="342.25,130.83 350.75,130.83 346.5,124.37" fill="#ff0000"/>
<polygon points="362.25,140.53 370.75,140.53 366.5,134.07" fill="#ff0000"/>
<polygon points="401.25,152.53 409.75,152.53 405.5,146.07" fill="#ff0000"/>
<polygon points="520.25,169.53 528.75,169.53 524.5,163.07" fill="#ff0000"/>
<polygon points="323.15,23.77 331.65,23.77 327.4,30.23" fill="#00ff00"/>
<polygon points="342.25,110.37 350.75,110.37 346.5,116.83" fill="#00ff00"/>
<polygon points="362.25,124.17 370.75,124.17 366.5,130.63" fill="#00ff00"/>
<polygon points="401.25,139.27 409.75,139.27 405.5,145.73" fill="#00ff00"/>
<polygon points="520.25,166.97 528.75,166.97 524.5,173.43" fill="#00ff00"/>
<path d="M327.3,26.8 C328.77,28.34 332.86,32.89 336.11,36.01 C339.37,39.13 343.46,42.32 346.83,45.52 C350.2,48.73 352.99,51.76 356.34,55.24 C359.7,58.71 363.59,63.13 366.96,66.35 C370.33,69.57 373.44,71.96 376.57,74.56 C379.71,77.16 382.73,79.67 385.79,81.97 C388.84,84.27 391.66,86.12 394.9,88.38 C398.14,90.63 401.68,93.12 405.22,95.49 C408.76,97.85 412.5,100.28 416.14,102.58 C419.77,104.87 423.41,107.1 427.05,109.26 C430.69,111.42 434.33,113.51 437.97,115.53 C441.61,117.56 445.25,119.51 448.89,121.41 C452.52,123.3 456.15,125.12 459.8,126.9 C463.46,128.67 467.16,130.4 470.82,132.05 C474.47,133.7 478.1,135.27 481.74,136.79 C485.37,138.31 489.01,139.77 492.65,141.17 C496.29,142.57 499.93,143.91 503.57,145.2 C507.21,146.49 511.05,147.77 514.48,148.89 C517.92,150 522.58,151.39 524.2,151.89" fill="none" stroke="#000" stroke-width="1.6" stroke-linejoin="round"/>
<path d="M327.4,26.2 C327.45,29.33 327.57,39.37 327.7,45 C327.83,50.63 328.05,55.2 328.2,60 C328.35,64.8 328.37,69.22 328.6,73.8 C328.83,78.38 329.1,82.92 329.6,87.5 C330.1,92.08 330.7,97.17 331.6,101.3 C332.5,105.43 333.97,109.18 335,112.3 C336.03,115.42 336.97,118.02 337.8,120 C338.63,121.98 338.95,122.48 340,124.2 C341.05,125.92 342.75,128.62 344.1,130.3 C345.45,131.98 346.08,132.78 348.1,134.3 C350.12,135.82 353.17,138.02 356.2,139.4 C359.23,140.78 363,141.42 366.3,142.6 C369.6,143.78 372.05,145.07 376,146.5 C379.95,147.93 384.33,149.54 390,151.16 C395.67,152.77 402.5,154.65 410,156.2 C417.5,157.74 425,159.14 435,160.41 C445,161.69 459.17,162.92 470,163.85 C480.83,164.78 490.95,165.28 500,166 C509.05,166.72 520.25,167.83 524.3,168.19" fill="none" stroke="#0000ff" stroke-width="1.7" stroke-linejoin="round"/>
<path d="M327.4,26.2 C327.45,29.33 327.57,39.37 327.7,45 C327.83,50.63 328,55.2 328.2,60 C328.4,64.8 328.55,69.22 328.9,73.8 C329.25,78.38 329.5,82.92 330.3,87.5 C331.1,92.08 332.75,97.72 333.7,101.3 C334.65,104.88 334.95,106.37 336,109 C337.05,111.63 338.65,114.57 340,117.1 C341.35,119.63 342.75,122.35 344.1,124.2 C345.45,126.05 346.08,126.68 348.1,128.2 C350.12,129.72 353.17,131.62 356.2,133.3 C359.23,134.98 363,136.7 366.3,138.3 C369.6,139.9 372.05,141.49 376,142.9 C379.95,144.31 384.33,145.24 390,146.73 C395.67,148.23 402.5,150.21 410,151.86 C417.5,153.51 425,155.08 435,156.63 C445,158.18 459.17,159.94 470,161.19 C480.83,162.44 490.95,163.24 500,164.13 C509.05,165.03 520.25,166.14 524.3,166.54" fill="none" stroke="#ff0000" stroke-width="1.7" stroke-linejoin="round"/>
<path d="M327.4,26.2 C327.47,29.33 327.67,39.37 327.8,45 C327.93,50.63 327.78,55.2 328.2,60 C328.62,64.8 329.38,69.22 330.3,73.8 C331.22,78.38 332.1,82.92 333.7,87.5 C335.3,92.08 337.72,97.17 339.9,101.3 C342.08,105.43 344.17,109.18 346.8,112.3 C349.43,115.42 352.42,117.63 355.7,120 C358.98,122.37 360.78,123.26 366.5,126.5 C372.22,129.74 382.75,135.99 390,139.47 C397.25,142.95 402.5,144.88 410,147.4 C417.5,149.91 425,152.25 435,154.56 C445,156.87 459.17,159.39 470,161.26 C480.83,163.13 490.95,164.34 500,165.78 C509.05,167.21 520.25,169.19 524.3,169.87" fill="none" stroke="#00ff00" stroke-width="1.8" stroke-linejoin="round"/>
<line x1="174.9" y1="233.4" x2="174.9" y2="398.75" stroke="#000" stroke-width="1.7" />
<line x1="174.05" y1="397.9" x2="394.8" y2="397.9" stroke="#000" stroke-width="1.7" />
<line x1="170.3" y1="397.9" x2="174.9" y2="397.9" stroke="#000" stroke-width="1.4" />
<line x1="171.9" y1="390.1" x2="174.9" y2="390.1" stroke="#000" stroke-width="1.4" />
<line x1="170.3" y1="382.3" x2="174.9" y2="382.3" stroke="#000" stroke-width="1.4" />
<line x1="171.9" y1="374.5" x2="174.9" y2="374.5" stroke="#000" stroke-width="1.4" />
<line x1="170.3" y1="366.7" x2="174.9" y2="366.7" stroke="#000" stroke-width="1.4" />
<line x1="171.9" y1="358.9" x2="174.9" y2="358.9" stroke="#000" stroke-width="1.4" />
<line x1="170.3" y1="351.1" x2="174.9" y2="351.1" stroke="#000" stroke-width="1.4" />
<line x1="171.9" y1="343.3" x2="174.9" y2="343.3" stroke="#000" stroke-width="1.4" />
<line x1="170.3" y1="335.5" x2="174.9" y2="335.5" stroke="#000" stroke-width="1.4" />
<line x1="171.9" y1="327.7" x2="174.9" y2="327.7" stroke="#000" stroke-width="1.4" />
<line x1="170.3" y1="319.9" x2="174.9" y2="319.9" stroke="#000" stroke-width="1.4" />
<line x1="171.9" y1="312.1" x2="174.9" y2="312.1" stroke="#000" stroke-width="1.4" />
<line x1="170.3" y1="304.3" x2="174.9" y2="304.3" stroke="#000" stroke-width="1.4" />
<line x1="171.9" y1="296.5" x2="174.9" y2="296.5" stroke="#000" stroke-width="1.4" />
<line x1="170.3" y1="288.7" x2="174.9" y2="288.7" stroke="#000" stroke-width="1.4" />
<line x1="171.9" y1="280.9" x2="174.9" y2="280.9" stroke="#000" stroke-width="1.4" />
<line x1="170.3" y1="273.1" x2="174.9" y2="273.1" stroke="#000" stroke-width="1.4" />
<line x1="171.9" y1="265.3" x2="174.9" y2="265.3" stroke="#000" stroke-width="1.4" />
<line x1="170.3" y1="257.5" x2="174.9" y2="257.5" stroke="#000" stroke-width="1.4" />
<line x1="171.9" y1="249.7" x2="174.9" y2="249.7" stroke="#000" stroke-width="1.4" />
<line x1="170.3" y1="241.9" x2="174.9" y2="241.9" stroke="#000" stroke-width="1.4" />
<line x1="171.9" y1="234.1" x2="174.9" y2="234.1" stroke="#000" stroke-width="1.4" />
<line x1="184.8" y1="397.9" x2="184.8" y2="402.3" stroke="#000" stroke-width="1.4" />
<line x1="204.9" y1="397.9" x2="204.9" y2="400.6" stroke="#000" stroke-width="1.4" />
<line x1="225" y1="397.9" x2="225" y2="402.3" stroke="#000" stroke-width="1.4" />
<line x1="245.1" y1="397.9" x2="245.1" y2="400.6" stroke="#000" stroke-width="1.4" />
<line x1="265.2" y1="397.9" x2="265.2" y2="402.3" stroke="#000" stroke-width="1.4" />
<line x1="285.3" y1="397.9" x2="285.3" y2="400.6" stroke="#000" stroke-width="1.4" />
<line x1="305.4" y1="397.9" x2="305.4" y2="402.3" stroke="#000" stroke-width="1.4" />
<line x1="325.5" y1="397.9" x2="325.5" y2="400.6" stroke="#000" stroke-width="1.4" />
<line x1="345.6" y1="397.9" x2="345.6" y2="402.3" stroke="#000" stroke-width="1.4" />
<line x1="365.7" y1="397.9" x2="365.7" y2="400.6" stroke="#000" stroke-width="1.4" />
<line x1="385.8" y1="397.9" x2="385.8" y2="402.3" stroke="#000" stroke-width="1.4" />
<text transform="translate(166.85,400.4)" font-size="8.8" font-weight="bold" text-anchor="end" fill="#111" letter-spacing="0.75" stroke="#111" stroke-width="0.2" stroke-linejoin="round" >0</text>
<text transform="translate(166.85,384.8)" font-size="8.8" font-weight="bold" text-anchor="end" fill="#111" letter-spacing="0.75" stroke="#111" stroke-width="0.2" stroke-linejoin="round" >10</text>
<text transform="translate(166.85,369.2)" font-size="8.8" font-weight="bold" text-anchor="end" fill="#111" letter-spacing="0.75" stroke="#111" stroke-width="0.2" stroke-linejoin="round" >20</text>
<text transform="translate(166.85,353.6)" font-size="8.8" font-weight="bold" text-anchor="end" fill="#111" letter-spacing="0.75" stroke="#111" stroke-width="0.2" stroke-linejoin="round" >30</text>
<text transform="translate(166.85,338)" font-size="8.8" font-weight="bold" text-anchor="end" fill="#111" letter-spacing="0.75" stroke="#111" stroke-width="0.2" stroke-linejoin="round" >40</text>
<text transform="translate(166.85,322.4)" font-size="8.8" font-weight="bold" text-anchor="end" fill="#111" letter-spacing="0.75" stroke="#111" stroke-width="0.2" stroke-linejoin="round" >50</text>
<text transform="translate(166.85,306.8)" font-size="8.8" font-weight="bold" text-anchor="end" fill="#111" letter-spacing="0.75" stroke="#111" stroke-width="0.2" stroke-linejoin="round" >60</text>
<text transform="translate(166.85,291.2)" font-size="8.8" font-weight="bold" text-anchor="end" fill="#111" letter-spacing="0.75" stroke="#111" stroke-width="0.2" stroke-linejoin="round" >70</text>
<text transform="translate(166.85,275.6)" font-size="8.8" font-weight="bold" text-anchor="end" fill="#111" letter-spacing="0.75" stroke="#111" stroke-width="0.2" stroke-linejoin="round" >80</text>
<text transform="translate(166.85,260)" font-size="8.8" font-weight="bold" text-anchor="end" fill="#111" letter-spacing="0.75" stroke="#111" stroke-width="0.2" stroke-linejoin="round" >90</text>
<text transform="translate(166.85,244.4)" font-size="8.8" font-weight="bold" text-anchor="end" fill="#111" letter-spacing="0.75" stroke="#111" stroke-width="0.2" stroke-linejoin="round" >100</text>
<text transform="translate(185.18,412.1)" font-size="8.8" font-weight="bold" text-anchor="middle" fill="#111" letter-spacing="0.75" stroke="#111" stroke-width="0.2" stroke-linejoin="round" >0.0</text>
<text transform="translate(225.38,412.1)" font-size="8.8" font-weight="bold" text-anchor="middle" fill="#111" letter-spacing="0.75" stroke="#111" stroke-width="0.2" stroke-linejoin="round" >0.1</text>
<text transform="translate(265.58,412.1)" font-size="8.8" font-weight="bold" text-anchor="middle" fill="#111" letter-spacing="0.75" stroke="#111" stroke-width="0.2" stroke-linejoin="round" >0.2</text>
<text transform="translate(305.78,412.1)" font-size="8.8" font-weight="bold" text-anchor="middle" fill="#111" letter-spacing="0.75" stroke="#111" stroke-width="0.2" stroke-linejoin="round" >0.3</text>
<text transform="translate(345.98,412.1)" font-size="8.8" font-weight="bold" text-anchor="middle" fill="#111" letter-spacing="0.75" stroke="#111" stroke-width="0.2" stroke-linejoin="round" >0.4</text>
<text transform="translate(386.18,412.1)" font-size="8.8" font-weight="bold" text-anchor="middle" fill="#111" letter-spacing="0.75" stroke="#111" stroke-width="0.2" stroke-linejoin="round" >0.5</text>
<text transform="translate(146.6,317.8) rotate(-90)" font-size="9.8" font-weight="bold" text-anchor="middle" fill="#111">HFF-1 growth (%)</text>
<text transform="translate(276.05,428) scale(0.97,1)" font-size="10.8" font-weight="bold" text-anchor="middle" fill="#111" letter-spacing="1.75" stroke="#111" stroke-width="0.25" stroke-linejoin="round" >BNZ (µM)</text>
<text transform="translate(255.6,248.6) scale(0.9,1)" font-size="22.4" font-weight="normal" text-anchor="start" fill="#000" stroke="#000" stroke-width="1.0" stroke-linejoin="round" >C</text>
<line x1="205.5" y1="263" x2="205.5" y2="397" stroke="#ff4a4a" stroke-width="0.9" stroke-dasharray="2.2,2"/>
<line x1="289.5" y1="275.6" x2="289.5" y2="397" stroke="#555" stroke-width="1.0" stroke-dasharray="1,1"/>
<rect x="281.7" y="209.9" width="94.8" height="51.4" fill="#fff" stroke="#6a6a6a" stroke-width="1.3"/>
<rect x="295.9" y="219.3" width="5.6" height="5.6" fill="#000"/>
<rect x="295.9" y="229.3" width="5.6" height="5.6" fill="#0000ff"/>
<circle cx="298.7" cy="241.9" r="3.1" fill="#ff0000"/>
<polygon points="294.45,254.22 302.95,254.22 298.7,248.78" fill="#00ff00"/>
<text transform="translate(310.6,224.8) scale(0.84,1)" font-size="7.0" font-weight="bold" text-anchor="start" fill="#222" letter-spacing="1.5" stroke="#222" stroke-width="0.2" stroke-linejoin="round" >BNZ</text>
<text transform="translate(310.6,234.7) scale(0.84,1)" font-size="7.0" font-weight="bold" text-anchor="start" fill="#222" letter-spacing="1.5" stroke="#222" stroke-width="0.2" stroke-linejoin="round" >BNZ + GBD 1µM</text>
<text transform="translate(310.6,244.6) scale(0.84,1)" font-size="7.0" font-weight="bold" text-anchor="start" fill="#222" letter-spacing="1.5" stroke="#222" stroke-width="0.2" stroke-linejoin="round" >BNZ + GLQ 1µM</text>
<text transform="translate(310.6,254.3) scale(0.84,1)" font-size="7.0" font-weight="bold" text-anchor="start" fill="#222" letter-spacing="1.5" stroke="#222" stroke-width="0.2" stroke-linejoin="round" >BNZ + GPZ 1µM</text>
<rect x="181.8" y="238.7" width="5.4" height="5.4" fill="#000"/>
<rect x="261.8" y="272.9" width="5.4" height="5.4" fill="#000"/>
<rect x="382.8" y="277.6" width="5.4" height="5.4" fill="#000"/>
<rect x="181.7" y="238.2" width="5.6" height="5.6" fill="#0000ff"/>
<rect x="221.7" y="300.8" width="5.6" height="5.6" fill="#0000ff"/>
<rect x="261.7" y="283.4" width="5.6" height="5.6" fill="#0000ff"/>
<rect x="382.7" y="324.9" width="5.6" height="5.6" fill="#0000ff"/>
<circle cx="184.5" cy="241.2" r="2.9" fill="#ff0000"/>
<circle cx="204.5" cy="244.6" r="2.9" fill="#ff0000"/>
<circle cx="224.5" cy="263.6" r="2.9" fill="#ff0000"/>
<circle cx="264.5" cy="300" r="2.9" fill="#ff0000"/>
<circle cx="385.5" cy="356.5" r="2.9" fill="#ff0000"/>
<polygon points="220.75,283.76 228.25,283.76 224.5,278.24" fill="#00ff00"/>
<polygon points="260.75,295.16 268.25,295.16 264.5,289.64" fill="#00ff00"/>
<polygon points="381.75,314.96 389.25,314.96 385.5,309.44" fill="#00ff00"/>
<path d="M184.4,242.2 C185,242.47 186.07,242.87 188,243.8 C189.93,244.73 193.32,246.45 196,247.8 C198.68,249.15 200.93,250.62 204.1,251.9 C207.27,253.18 211.55,254.4 215,255.5 C218.45,256.6 220.97,257.37 224.8,258.5 C228.63,259.63 234.48,261.35 238,262.3 C241.52,263.25 241.43,263.12 245.9,264.2 C250.37,265.28 259.12,267.43 264.8,268.8 C270.48,270.17 275.83,271.5 280,272.4 C284.17,273.3 284.58,273.17 289.8,274.2 C295.02,275.23 303.13,276.75 311.3,278.6 C319.47,280.45 329.63,283.33 338.8,285.3 C347.97,287.27 358.47,289.18 366.3,290.4 C374.13,291.62 381.17,291.95 385.8,292.6 C390.43,293.25 392.72,294.02 394.1,294.3" fill="none" stroke="#000" stroke-width="1.6" stroke-linejoin="round"/>
<path d="M184.4,241.4 C185.67,241.8 189.4,242.6 192,243.8 C194.6,245 197.85,247.18 200,248.6 C202.15,250.02 203.28,250.82 204.9,252.3 C206.52,253.78 208.02,255.57 209.7,257.5 C211.38,259.43 212.43,260.88 215,263.9 C217.57,266.92 221.48,271.88 225.1,275.6 C228.72,279.32 232.93,283.37 236.7,286.2 C240.47,289.03 243.72,290.77 247.7,292.6 C251.68,294.43 256.32,295.82 260.6,297.2 C264.88,298.58 268.53,299.77 273.4,300.9 C278.27,302.03 283.48,303.07 289.8,304 C296.12,304.93 303.13,305.72 311.3,306.5 C319.47,307.28 326.38,307.9 338.8,308.7 C351.22,309.5 377.97,310.87 385.8,311.3" fill="none" stroke="#00ff00" stroke-width="1.5" stroke-linejoin="round"/>
<path d="M184.4,241 C185.67,241.2 189.4,241.67 192,242.2 C194.6,242.73 197.85,243.65 200,244.2 C202.15,244.75 203.23,244.78 204.9,245.5 C206.57,246.22 208.32,247.33 210,248.5 C211.68,249.67 213.33,250.98 215,252.5 C216.67,254.02 218.32,255.8 220,257.6 C221.68,259.4 222.32,260.37 225.1,263.3 C227.88,266.23 232.93,271.38 236.7,275.2 C240.47,279.02 244.03,282.68 247.7,286.2 C251.37,289.72 255.85,293.83 258.7,296.3 C261.55,298.77 262.92,299.53 264.8,301 C266.68,302.47 267.47,303.18 270,305.1 C272.53,307.02 276.7,310.12 280,312.5 C283.3,314.88 284.58,315.98 289.8,319.4 C295.02,322.82 303.13,328.67 311.3,333 C319.47,337.33 329.63,342.05 338.8,345.4 C347.97,348.75 358.47,351.25 366.3,353.1 C374.13,354.95 382.55,355.93 385.8,356.5" fill="none" stroke="#ff0000" stroke-width="1.5" stroke-linejoin="round"/>
<path d="M184.4,240.8 C185.67,240.9 189.78,241.1 192,241.4 C194.22,241.7 196.08,241.93 197.7,242.6 C199.32,243.27 200.63,244.47 201.7,245.4 C202.77,246.33 203.3,246.72 204.1,248.2 C204.9,249.68 205.77,252.08 206.5,254.3 C207.23,256.52 207.83,258.88 208.5,261.5 C209.17,264.12 209.62,266.5 210.5,270 C211.38,273.5 212.5,278.27 213.8,282.5 C215.1,286.73 216.93,292.33 218.3,295.4 C219.67,298.47 220.47,299.38 222,300.9 C223.53,302.42 225.05,303.57 227.5,304.5 C229.95,305.43 233.33,306.05 236.7,306.5 C240.07,306.95 240.48,307.07 247.7,307.2 C254.92,307.33 256.98,307.28 280,307.3 C303.02,307.32 368.17,307.3 385.8,307.3" fill="none" stroke="#0000ff" stroke-width="1.5" stroke-linejoin="round"/>
<line x1="204.5" y1="238" x2="204.5" y2="262.3" stroke="#000" stroke-width="1.2" />
<line x1="202.3" y1="238" x2="206.7" y2="238" stroke="#000" stroke-width="1.2" />
<line x1="202.3" y1="262.3" x2="206.7" y2="262.3" stroke="#000" stroke-width="1.2" />
<line x1="224.5" y1="248.2" x2="224.5" y2="279.3" stroke="#000" stroke-width="1.2" />
<line x1="222.3" y1="248.2" x2="226.7" y2="248.2" stroke="#000" stroke-width="1.2" />
<line x1="222.3" y1="279.3" x2="226.7" y2="279.3" stroke="#000" stroke-width="1.2" />
<line x1="264.5" y1="262.7" x2="264.5" y2="281" stroke="#000" stroke-width="1.2" />
<line x1="262.3" y1="262.7" x2="266.7" y2="262.7" stroke="#000" stroke-width="1.2" />
<line x1="262.3" y1="281" x2="266.7" y2="281" stroke="#000" stroke-width="1.2" />
<line x1="385.5" y1="268.3" x2="385.5" y2="292.3" stroke="#000" stroke-width="1.2" />
<line x1="383.3" y1="268.3" x2="387.7" y2="268.3" stroke="#000" stroke-width="1.2" />
<line x1="383.3" y1="292.3" x2="387.7" y2="292.3" stroke="#000" stroke-width="1.2" />
<polygon points="180.88,244.39 188.12,244.39 184.5,238.01" fill="#00ff00"/>
</svg></body></html>
